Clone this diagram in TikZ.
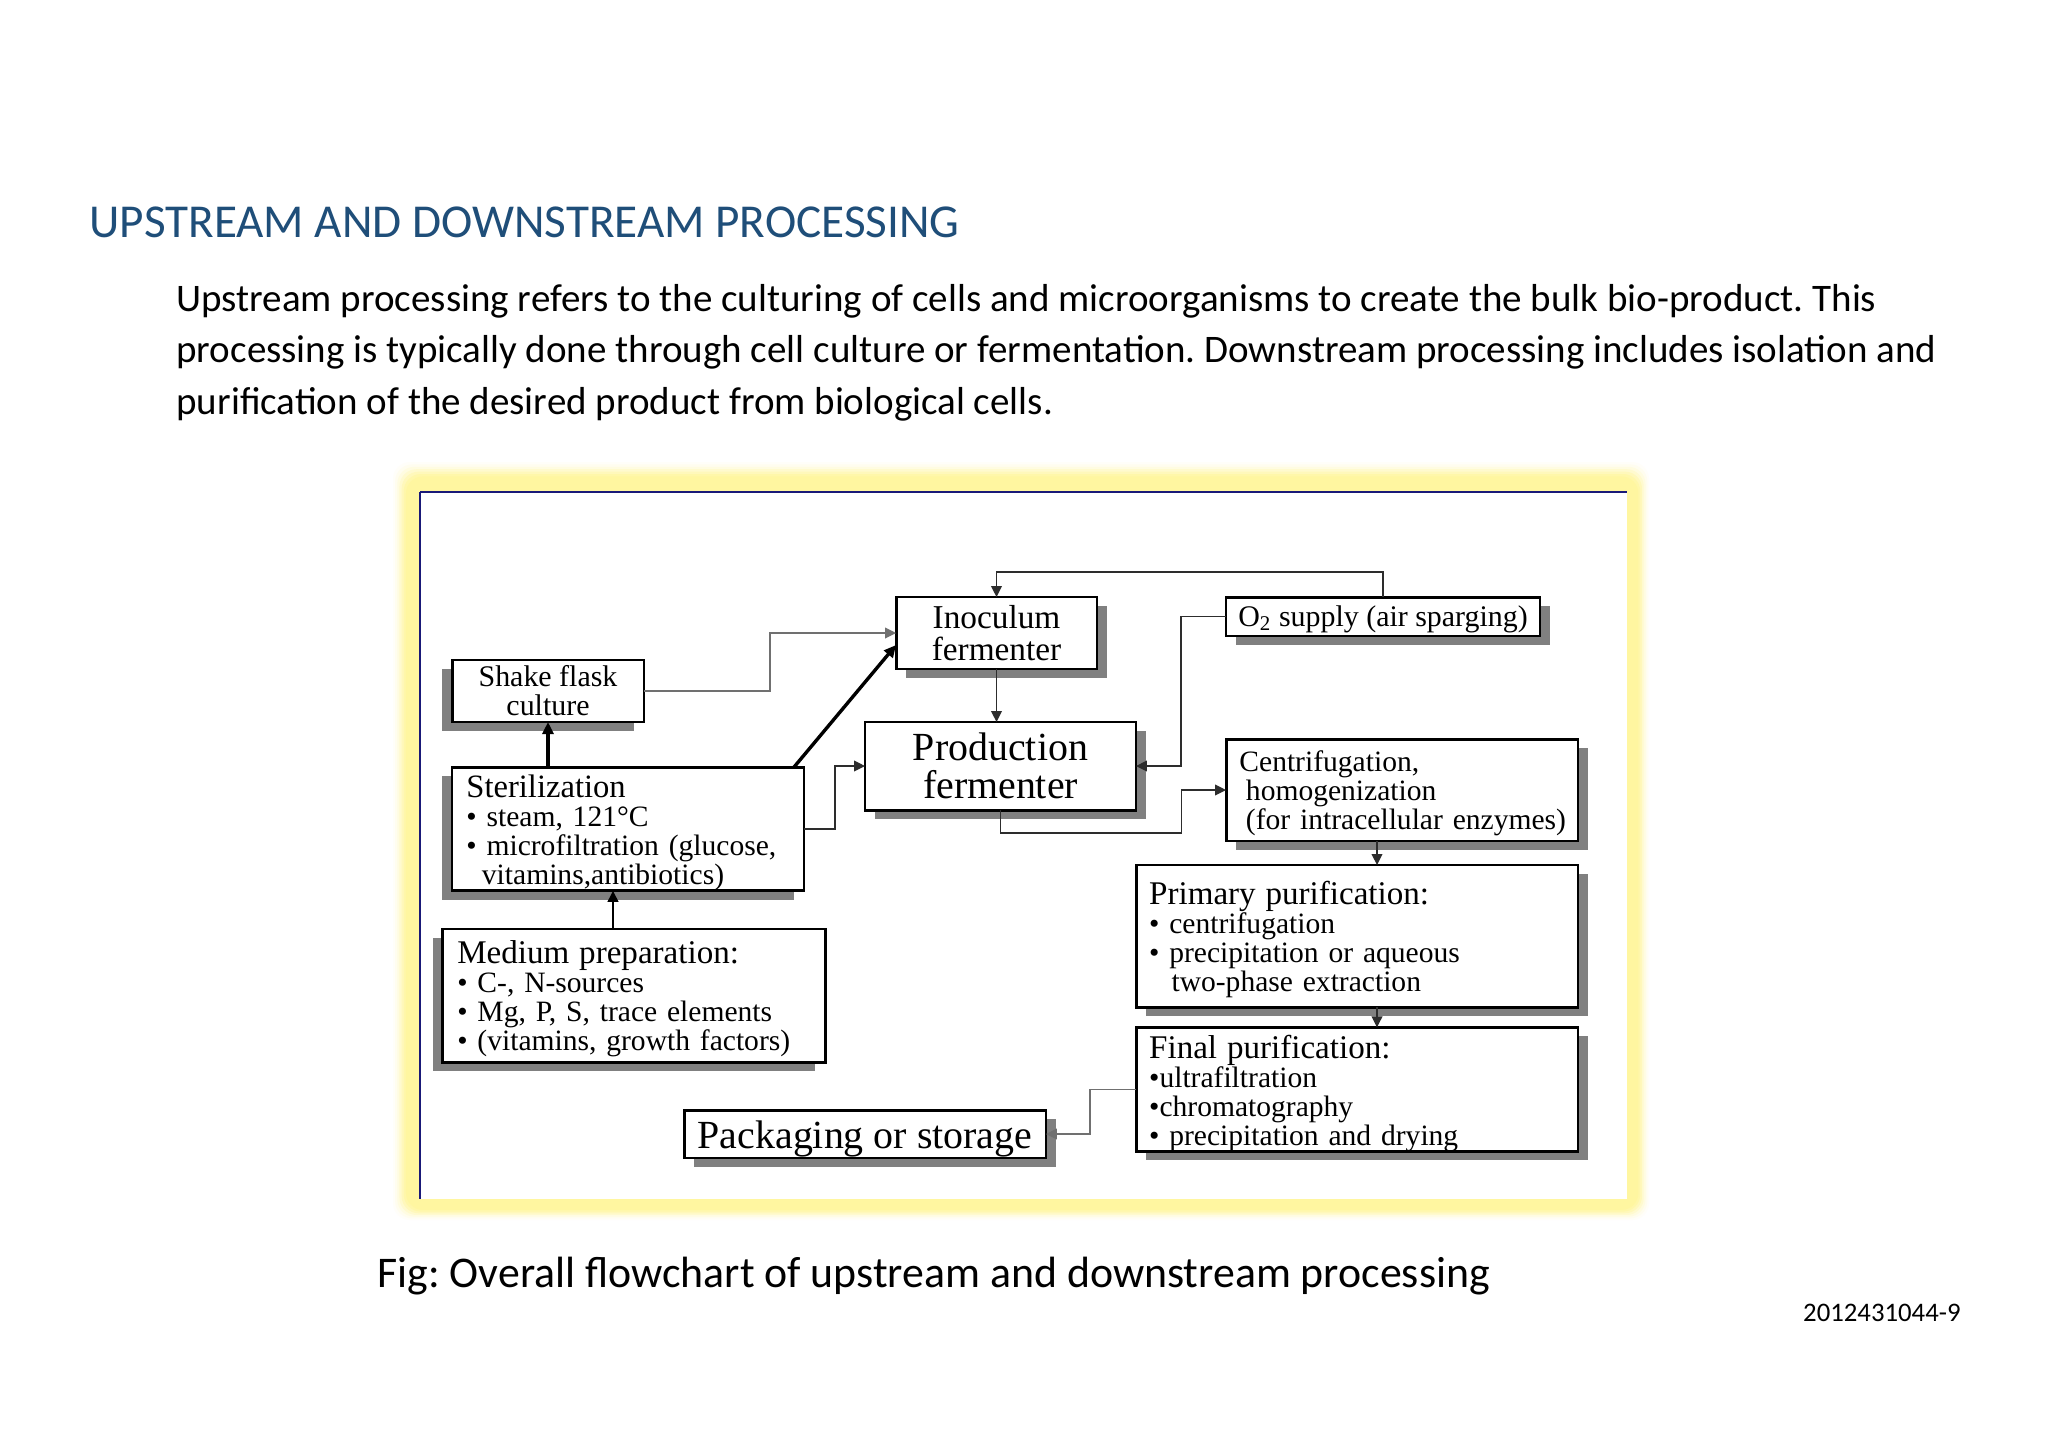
\documentclass[tikz,border=0pt]{standalone}
\usepackage{fontspec}
\setmainfont{Liberation Serif}
\newfontfamily\bodyfont{Carlito}
\usetikzlibrary{arrows.meta,shadows,calc}
\definecolor{titleblue}{RGB}{31,78,121}
\definecolor{glowc}{RGB}{255,245,155}
\definecolor{shadowgray}{RGB}{128,128,128}
\definecolor{linegray}{RGB}{112,112,112}
\definecolor{linedark}{RGB}{45,45,45}
\definecolor{frameblue}{RGB}{25,25,120}
\newcommand{\myfirststrut}[1]{\rule{0pt}{#1}}
\frenchspacing
\begin{document}
\begin{tikzpicture}[x=0.41113pt, y=-0.41113pt,
  box/.style={draw=black, line width=1.2pt, fill=white, inner sep=0pt, outer sep=0pt},
  shR/.style={drop shadow={shadow xshift=4pt, shadow yshift=-3.6pt, fill=shadowgray, opacity=1}},
  shL/.style={drop shadow={shadow xshift=-4pt, shadow yshift=-3.6pt, fill=shadowgray, opacity=1}},
  conn/.style={line width=0.6pt, draw=linedark, -{Triangle[length=4.5pt,width=4.4pt]}},
  lightconn/.style={conn, draw=linegray},
  heavyconn/.style={line width=1.4pt, draw=black, -{Triangle[length=5pt,width=4.6pt]}},
  medconn/.style={line width=0.8pt, draw=black, -{Triangle[length=4.5pt,width=4.4pt]}},
  bodytext/.style={anchor=base west, inner sep=0pt, font=\bodyfont\fontsize{16.04}{19}\selectfont},
  boxfont/.style={font=\fontsize{12.15}{11.9}\selectfont},
]
\useasboundingbox (0,0) rectangle (2048,1448);
\fill[white] (0,0) rectangle (2048,1448);

% texts of the page
\node[anchor=base west, inner sep=0pt, text=titleblue, font=\bodyfont\fontsize{19.4}{23}\selectfont] (title) at (89,237) {UPSTREAM AND DOWNSTREAM PROCESSING};
\node[bodytext] (p1) at (176,311) {Upstream processing refers to the culturing of cells and microorganisms to create the bulk bio-product. This};
\node[bodytext] (p2) at (176,362.5) {processing is typically done through cell culture or fermentation. Downstream processing includes isolation and};
\node[bodytext] (p3) at (176,414) {purification of the desired product from biological cells.};
\node[anchor=base west, inner sep=0pt, font=\bodyfont\fontsize{18}{22}\selectfont] (caption) at (377,1287) {Fig: Overall flowchart of upstream and downstream processing};
\node[anchor=base east, inner sep=0pt, font=\bodyfont\fontsize{11}{13}\selectfont] (pagenum) at (1961,1321) {2012431044-9};

% glow and frame
\foreach \f/\p in {1.0/6, 0.92/16, 0.84/30, 0.76/48, 0.68/68, 0.6/85, 0.52/95} {
  \fill[glowc!\p!white, rounded corners=7pt] ({420-27*\f},{492-30*\f}) rectangle ({1627+22*\f},{1199+21*\f});
}
\fill[white] (420,492) rectangle (1627,1199);
\draw[frameblue, line width=0.6pt] (420,492) -- (1627,492);
\draw[frameblue, line width=0.8pt] (420,492) -- (420,1199);

% boxes
\node[box, shR, minimum width=82.6pt, minimum height=29.6pt, align=center, font=\fontsize{13.7}{12.9}\selectfont] (inoc) at (996.5,633) {Inoculum\\fermenter};
\node[box, shR, minimum width=129.1pt, minimum height=16pt, text height=10.5pt, text depth=2.7pt, align=center, font=\fontsize{12.3}{12}\selectfont] (o2) at (1383,616.5) {O\textsubscript{2} supply (air sparging)};
\node[box, shL, minimum width=78.9pt, minimum height=25.5pt, align=center, font=\fontsize{12.3}{11.9}\selectfont] (shake) at (548,691) {Shake flask\\culture};
\node[box, shR, minimum width=111.4pt, minimum height=36.2pt, align=center, font=\fontsize{16.4}{15.6}\selectfont] (prod) at (1000.5,766) {Production\\fermenter};
\node[box, shL, text width=144.7pt, minimum height=49.3pt, align=left, boxfont] (ster) at (628,829) {\myfirststrut{12.6pt}\hspace*{5.9pt}{\fontsize{13.4}{11.9}\selectfont Sterilization}\\\hspace*{5.9pt}• steam, 121°C\\\hspace*{5.9pt}• microfiltration (glucose,\\\hspace*{12.3pt}vitamins,antibiotics)};
\node[box, shR, text width=144.7pt, minimum height=41.9pt, align=left, boxfont] (centr) at (1402,790) {\myfirststrut{11pt}\hspace*{5.5pt}Centrifugation,\\\hspace*{8.2pt}homogenization\\\hspace*{8.2pt}(for intracellular enzymes)};
\node[box, shR, text width=181.7pt, minimum height=58.4pt, align=left, boxfont] (prim) at (1357,936) {\myfirststrut{12.3pt}\hspace*{5.4pt}{\fontsize{13.6}{11.9}\selectfont Primary purification:}\\\hspace*{5.4pt}• centrifugation\\\hspace*{5.4pt}• precipitation or aqueous\\\hspace*{14.6pt}two-phase extraction};
\node[box, shL, text width=157.1pt, minimum height=54.7pt, align=left, boxfont] (med) at (634,995.5) {\myfirststrut{12.3pt}\hspace*{5.9pt}{\fontsize{13.6}{11.9}\selectfont Medium preparation:}\\\hspace*{5.9pt}• C-, N-sources\\\hspace*{5.9pt}• Mg, P, S, trace elements\\\hspace*{5.9pt}• (vitamins, growth factors)};
\node[box, shR, text width=181.7pt, minimum height=48.9pt, align=left, boxfont] (fin) at (1357,1089.5) {\myfirststrut{12.8pt}\hspace*{5.4pt}{\fontsize{13.6}{11.9}\selectfont Final purification:}\\\hspace*{5.4pt}•ultrafiltration\\\hspace*{5.4pt}•chromatography\\\hspace*{5.4pt}• precipitation and drying};
\node[box, shR, minimum width=148.8pt, minimum height=19.7pt, text height=15.3pt, text depth=3.6pt, align=center, font=\fontsize{16.4}{16}\selectfont] (pack) at (865,1134) {Packaging or storage};

% connectors
\draw[conn] (o2.north) -- ++(0,-25) -| (inoc.north);
\draw[conn] (o2.west) -- ++(-45,0) |- (prod.east);
\draw[lightconn] (shake.east) -- ++(126,0) |- (inoc.west);
\draw[conn] (inoc.south) -- (inoc.south |- prod.north);
\draw[heavyconn] (shake.south |- ster.north) -- (shake.south);
\draw[heavyconn] ($(ster.north east)+(-10,0)$) -- ($(inoc.west)+(0,12)$);
\draw[conn] (ster.east) -- ++(31,0) |- (prod.west);
\coordinate (mtop) at ($(med.north)+(-21,0)$);
\draw[medconn] (mtop) -- (mtop |- ster.south);
\draw[conn] (prod.south) -- ++(0,23) -- ++(181,0) |- (centr.west);
\coordinate (cx) at ($(centr.south)+(-25,0)$);
\draw[conn] (cx) -- (cx |- prim.north);
\draw[conn] (cx |- prim.south) -- (cx |- fin.north);
\draw[lightconn] (fin.west) -- ++(-46,0) |- (pack.east);
\end{tikzpicture}
\end{document}
